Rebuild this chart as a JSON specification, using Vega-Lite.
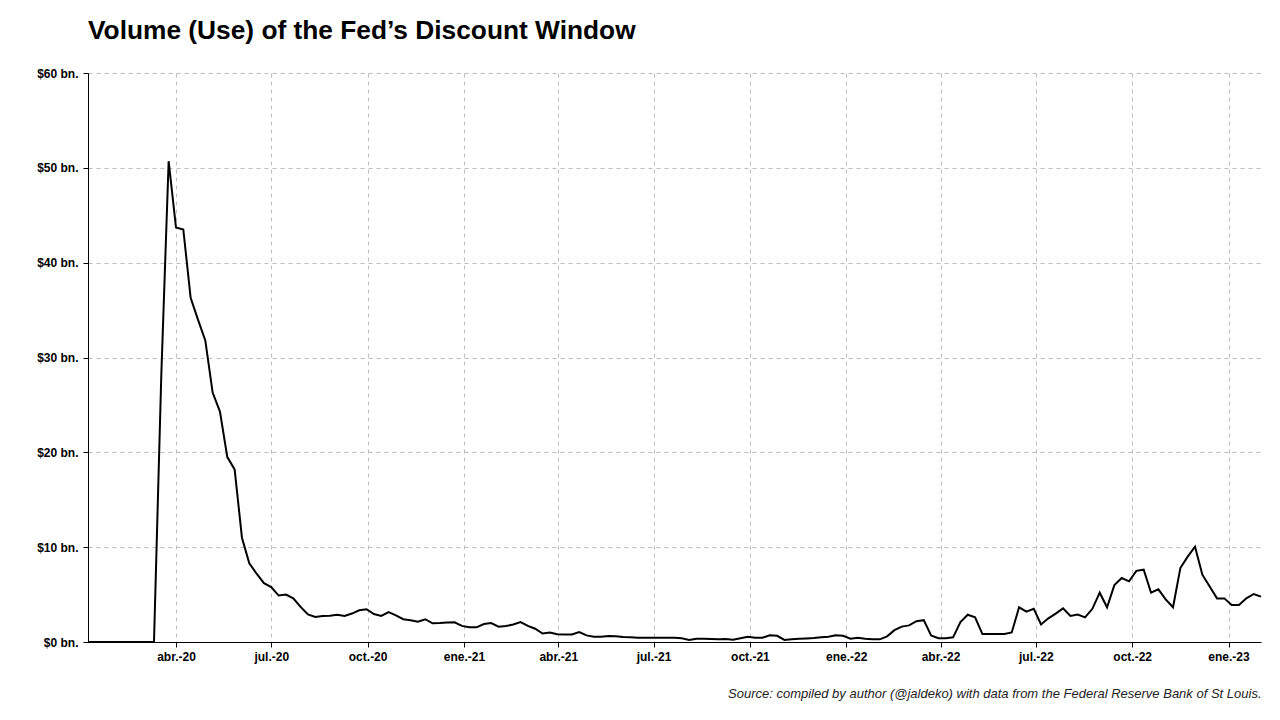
{
  "$schema": "https://vega.github.io/schema/vega-lite/v6.json",
  "autosize": "none",
  "width": 1173,
  "height": 569,
  "padding": {"left": 88, "top": 73, "right": 19, "bottom": 78},
  "background": "white",
  "config": {
    "font": "Liberation Sans",
    "view": {"stroke": null},
    "axis": {
      "domainColor": "black",
      "domainWidth": 1,
      "tickColor": "black",
      "tickSize": 5,
      "labelFont": "Liberation Sans",
      "labelFontSize": 12,
      "labelFontWeight": "bold",
      "labelColor": "black",
      "gridColor": "#bdbdbd",
      "gridDash": [4, 4],
      "gridWidth": 1
    }
  },
  "title": {
    "text": "Volume (Use) of the Fed’s Discount Window",
    "font": "Liberation Sans",
    "fontSize": 26.3,
    "fontWeight": "bold",
    "color": "black",
    "anchor": "start",
    "frame": "group",
    "baseline": "alphabetic",
    "offset": 2
  },
  "data": {
    "values": [
      {"date": "2020/01/08", "volume": 0},
      {"date": "2020/01/15", "volume": 0},
      {"date": "2020/01/22", "volume": 0},
      {"date": "2020/01/29", "volume": 0},
      {"date": "2020/02/05", "volume": 0},
      {"date": "2020/02/12", "volume": 0},
      {"date": "2020/02/19", "volume": 0},
      {"date": "2020/02/26", "volume": 0},
      {"date": "2020/03/04", "volume": 0},
      {"date": "2020/03/11", "volume": 0},
      {"date": "2020/03/18", "volume": 28.2},
      {"date": "2020/03/25", "volume": 50.7},
      {"date": "2020/04/01", "volume": 43.7},
      {"date": "2020/04/08", "volume": 43.5},
      {"date": "2020/04/15", "volume": 36.3},
      {"date": "2020/04/22", "volume": 34.0},
      {"date": "2020/04/29", "volume": 31.8},
      {"date": "2020/05/06", "volume": 26.3},
      {"date": "2020/05/13", "volume": 24.3},
      {"date": "2020/05/20", "volume": 19.5},
      {"date": "2020/05/27", "volume": 18.2},
      {"date": "2020/06/03", "volume": 11.0},
      {"date": "2020/06/10", "volume": 8.3},
      {"date": "2020/06/17", "volume": 7.2},
      {"date": "2020/06/24", "volume": 6.2},
      {"date": "2020/07/01", "volume": 5.8},
      {"date": "2020/07/08", "volume": 4.9},
      {"date": "2020/07/15", "volume": 5.0},
      {"date": "2020/07/22", "volume": 4.6},
      {"date": "2020/07/29", "volume": 3.7},
      {"date": "2020/08/05", "volume": 2.9},
      {"date": "2020/08/12", "volume": 2.65},
      {"date": "2020/08/19", "volume": 2.75},
      {"date": "2020/08/26", "volume": 2.78},
      {"date": "2020/09/02", "volume": 2.88},
      {"date": "2020/09/09", "volume": 2.75},
      {"date": "2020/09/16", "volume": 3.0},
      {"date": "2020/09/23", "volume": 3.35},
      {"date": "2020/09/30", "volume": 3.45},
      {"date": "2020/10/07", "volume": 2.95},
      {"date": "2020/10/14", "volume": 2.75},
      {"date": "2020/10/21", "volume": 3.15},
      {"date": "2020/10/28", "volume": 2.8},
      {"date": "2020/11/04", "volume": 2.4},
      {"date": "2020/11/11", "volume": 2.3},
      {"date": "2020/11/18", "volume": 2.15},
      {"date": "2020/11/25", "volume": 2.4},
      {"date": "2020/12/02", "volume": 1.97},
      {"date": "2020/12/09", "volume": 2.0},
      {"date": "2020/12/16", "volume": 2.05},
      {"date": "2020/12/23", "volume": 2.08},
      {"date": "2020/12/30", "volume": 1.7},
      {"date": "2021/01/06", "volume": 1.55},
      {"date": "2021/01/13", "volume": 1.55},
      {"date": "2021/01/20", "volume": 1.9},
      {"date": "2021/01/27", "volume": 2.0},
      {"date": "2021/02/03", "volume": 1.62},
      {"date": "2021/02/10", "volume": 1.68},
      {"date": "2021/02/17", "volume": 1.85},
      {"date": "2021/02/24", "volume": 2.1},
      {"date": "2021/03/03", "volume": 1.7},
      {"date": "2021/03/10", "volume": 1.4},
      {"date": "2021/03/17", "volume": 0.9},
      {"date": "2021/03/24", "volume": 1.0},
      {"date": "2021/03/31", "volume": 0.81},
      {"date": "2021/04/07", "volume": 0.8},
      {"date": "2021/04/14", "volume": 0.8},
      {"date": "2021/04/21", "volume": 1.05},
      {"date": "2021/04/28", "volume": 0.7},
      {"date": "2021/05/05", "volume": 0.56},
      {"date": "2021/05/12", "volume": 0.56},
      {"date": "2021/05/19", "volume": 0.62},
      {"date": "2021/05/26", "volume": 0.6},
      {"date": "2021/06/02", "volume": 0.52},
      {"date": "2021/06/09", "volume": 0.5},
      {"date": "2021/06/16", "volume": 0.46},
      {"date": "2021/06/23", "volume": 0.46},
      {"date": "2021/06/30", "volume": 0.46},
      {"date": "2021/07/07", "volume": 0.46},
      {"date": "2021/07/14", "volume": 0.46},
      {"date": "2021/07/21", "volume": 0.46},
      {"date": "2021/07/28", "volume": 0.4},
      {"date": "2021/08/04", "volume": 0.22},
      {"date": "2021/08/11", "volume": 0.33},
      {"date": "2021/08/18", "volume": 0.33},
      {"date": "2021/08/25", "volume": 0.32},
      {"date": "2021/09/01", "volume": 0.28},
      {"date": "2021/09/08", "volume": 0.32},
      {"date": "2021/09/15", "volume": 0.25},
      {"date": "2021/09/22", "volume": 0.4},
      {"date": "2021/09/29", "volume": 0.56},
      {"date": "2021/10/06", "volume": 0.45},
      {"date": "2021/10/13", "volume": 0.45},
      {"date": "2021/10/20", "volume": 0.7},
      {"date": "2021/10/27", "volume": 0.65},
      {"date": "2021/11/03", "volume": 0.22},
      {"date": "2021/11/10", "volume": 0.3},
      {"date": "2021/11/17", "volume": 0.35},
      {"date": "2021/11/24", "volume": 0.38},
      {"date": "2021/12/01", "volume": 0.42},
      {"date": "2021/12/08", "volume": 0.5},
      {"date": "2021/12/15", "volume": 0.55},
      {"date": "2021/12/22", "volume": 0.7},
      {"date": "2021/12/29", "volume": 0.65},
      {"date": "2022/01/05", "volume": 0.35},
      {"date": "2022/01/12", "volume": 0.45},
      {"date": "2022/01/19", "volume": 0.35},
      {"date": "2022/01/26", "volume": 0.28},
      {"date": "2022/02/02", "volume": 0.28},
      {"date": "2022/02/09", "volume": 0.6},
      {"date": "2022/02/16", "volume": 1.25},
      {"date": "2022/02/23", "volume": 1.62},
      {"date": "2022/03/02", "volume": 1.75},
      {"date": "2022/03/09", "volume": 2.2},
      {"date": "2022/03/16", "volume": 2.3},
      {"date": "2022/03/23", "volume": 0.7},
      {"date": "2022/03/30", "volume": 0.39},
      {"date": "2022/04/06", "volume": 0.39},
      {"date": "2022/04/13", "volume": 0.49},
      {"date": "2022/04/20", "volume": 2.1},
      {"date": "2022/04/27", "volume": 2.88},
      {"date": "2022/05/04", "volume": 2.6},
      {"date": "2022/05/11", "volume": 0.84},
      {"date": "2022/05/18", "volume": 0.84},
      {"date": "2022/05/25", "volume": 0.84},
      {"date": "2022/06/01", "volume": 0.84},
      {"date": "2022/06/08", "volume": 1.0},
      {"date": "2022/06/15", "volume": 3.66},
      {"date": "2022/06/22", "volume": 3.2},
      {"date": "2022/06/29", "volume": 3.5},
      {"date": "2022/07/06", "volume": 1.85},
      {"date": "2022/07/13", "volume": 2.5},
      {"date": "2022/07/20", "volume": 3.0},
      {"date": "2022/07/27", "volume": 3.55},
      {"date": "2022/08/03", "volume": 2.74},
      {"date": "2022/08/10", "volume": 2.9},
      {"date": "2022/08/17", "volume": 2.6},
      {"date": "2022/08/24", "volume": 3.5},
      {"date": "2022/08/31", "volume": 5.2},
      {"date": "2022/09/07", "volume": 3.66},
      {"date": "2022/09/14", "volume": 6.0},
      {"date": "2022/09/21", "volume": 6.75},
      {"date": "2022/09/28", "volume": 6.4},
      {"date": "2022/10/05", "volume": 7.5},
      {"date": "2022/10/12", "volume": 7.63},
      {"date": "2022/10/19", "volume": 5.2},
      {"date": "2022/10/26", "volume": 5.55},
      {"date": "2022/11/02", "volume": 4.5},
      {"date": "2022/11/09", "volume": 3.66},
      {"date": "2022/11/16", "volume": 7.8},
      {"date": "2022/11/23", "volume": 9.0},
      {"date": "2022/11/30", "volume": 10.05},
      {"date": "2022/12/07", "volume": 7.1},
      {"date": "2022/12/14", "volume": 5.85},
      {"date": "2022/12/21", "volume": 4.6},
      {"date": "2022/12/28", "volume": 4.6},
      {"date": "2023/01/04", "volume": 3.9},
      {"date": "2023/01/11", "volume": 3.9},
      {"date": "2023/01/18", "volume": 4.6},
      {"date": "2023/01/25", "volume": 5.06},
      {"date": "2023/02/01", "volume": 4.78}
    ]
  },
  "mark": {"type": "line", "color": "black", "strokeWidth": 2, "strokeJoin": "miter"},
  "encoding": {
    "x": {
      "field": "date",
      "type": "temporal",
      "scale": {
        "domain": [
          {"year": 2020, "month": 1, "date": 8},
          {"year": 2023, "month": 2, "date": 1}
        ],
        "nice": false
      },
      "axis": {
        "values": [
          {"year": 2020, "month": 4, "date": 1},
          {"year": 2020, "month": 7, "date": 1},
          {"year": 2020, "month": 10, "date": 1},
          {"year": 2021, "month": 1, "date": 1},
          {"year": 2021, "month": 4, "date": 1},
          {"year": 2021, "month": 7, "date": 1},
          {"year": 2021, "month": 10, "date": 1},
          {"year": 2022, "month": 1, "date": 1},
          {"year": 2022, "month": 4, "date": 1},
          {"year": 2022, "month": 7, "date": 1},
          {"year": 2022, "month": 10, "date": 1},
          {"year": 2023, "month": 1, "date": 1}
        ],
        "labelExpr": "['ene.','feb.','mar.','abr.','may.','jun.','jul.','ago.','sept.','oct.','nov.','dic.'][month(datum.value)] + '-' + timeFormat(datum.value, '%y')",
        "labelPadding": 4,
        "grid": true,
        "title": "Source: compiled by author (@jaldeko) with data from the Federal Reserve Bank of St Louis.",
        "titleAnchor": "end",
        "titleFont": "Liberation Sans",
        "titleFontSize": 13,
        "titleFontStyle": "italic",
        "titleFontWeight": "normal",
        "titleColor": "#222222",
        "titlePadding": 25
      }
    },
    "y": {
      "field": "volume",
      "type": "quantitative",
      "scale": {"domain": [0, 60], "nice": false},
      "axis": {
        "values": [0, 10, 20, 30, 40, 50, 60],
        "labelExpr": "'$' + datum.value + ' bn.'",
        "labelPadding": 5,
        "grid": true,
        "title": null
      }
    }
  }
}
